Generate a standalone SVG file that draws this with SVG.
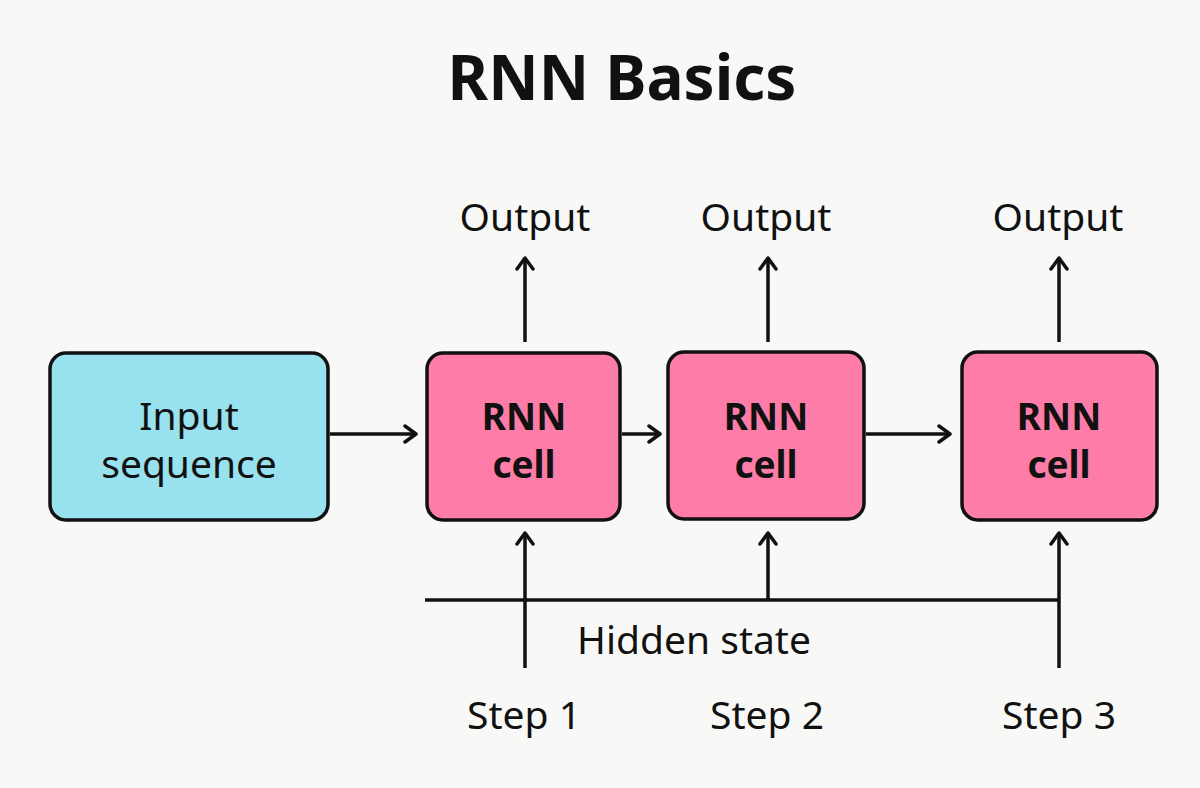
<svg xmlns="http://www.w3.org/2000/svg" width="1200" height="788" viewBox="0 0 1200 788">
<style>
.t{font-family:"Noto Sans","Liberation Sans",sans-serif;fill:#111;text-anchor:middle}
.lbl{font-size:39px}
.b{font-size:37px;font-weight:bold}
.box{stroke:#111;stroke-width:3.5}
.cell{fill:#fd7ca8}
.inp{fill:#98e1ee}
.c{stroke:#111;stroke-width:3.5;fill:none}
</style>
<defs>
<marker id="ah" viewBox="0 0 20 20" refX="17" refY="10" markerWidth="20" markerHeight="20" markerUnits="userSpaceOnUse" orient="auto">
<path d="M6,2 L17,10 L6,18" fill="none" stroke="#111" stroke-width="3.5" stroke-linecap="round" stroke-linejoin="round"/>
</marker>
</defs>
<rect width="1200" height="788" fill="#f8f8f6"/>
<text class="t" x="622" y="100" font-size="62" font-weight="bold">RNN Basics</text>
<g id="input">
<rect class="box inp" x="50" y="353" width="278" height="167" rx="16"/>
<text class="t lbl" x="189" y="430">Input</text>
<text class="t lbl" x="189" y="478">sequence</text>
</g>
<g id="cell1">
<rect class="box cell" x="427" y="353" width="193" height="167" rx="16"/>
<text class="t b" x="524" y="430">RNN</text>
<text class="t b" x="524" y="478">cell</text>
</g>
<g id="cell2">
<rect class="box cell" x="668" y="352" width="196" height="167" rx="16"/>
<text class="t b" x="766" y="430">RNN</text>
<text class="t b" x="766" y="478">cell</text>
</g>
<g id="cell3">
<rect class="box cell" x="962" y="352" width="195" height="168" rx="16"/>
<text class="t b" x="1059" y="430">RNN</text>
<text class="t b" x="1059" y="478">cell</text>
</g>
<g id="labels">
<text class="t lbl" x="525" y="231">Output</text>
<text class="t lbl" x="766" y="231">Output</text>
<text class="t lbl" x="1058" y="231">Output</text>
<text class="t lbl" x="694" y="654">Hidden state</text>
<text class="t lbl" x="524" y="729">Step 1</text>
<text class="t lbl" x="767" y="729">Step 2</text>
<text class="t lbl" x="1059" y="729">Step 3</text>
</g>
<g id="connectors">
<line class="c" x1="330" y1="434" x2="416" y2="434" marker-end="url(#ah)"/>
<line class="c" x1="622" y1="434" x2="660" y2="434" marker-end="url(#ah)"/>
<line class="c" x1="866" y1="434" x2="950" y2="434" marker-end="url(#ah)"/>
<line class="c" x1="525" y1="342" x2="525" y2="258" marker-end="url(#ah)"/>
<line class="c" x1="768" y1="342" x2="768" y2="258" marker-end="url(#ah)"/>
<line class="c" x1="1059" y1="342" x2="1059" y2="258" marker-end="url(#ah)"/>
<line class="c" x1="425" y1="600" x2="1059" y2="600"/>
<line class="c" x1="525" y1="668" x2="525" y2="533" marker-end="url(#ah)"/>
<line class="c" x1="768" y1="600" x2="768" y2="533" marker-end="url(#ah)"/>
<line class="c" x1="1059" y1="668" x2="1059" y2="533" marker-end="url(#ah)"/>
</g>
</svg>
